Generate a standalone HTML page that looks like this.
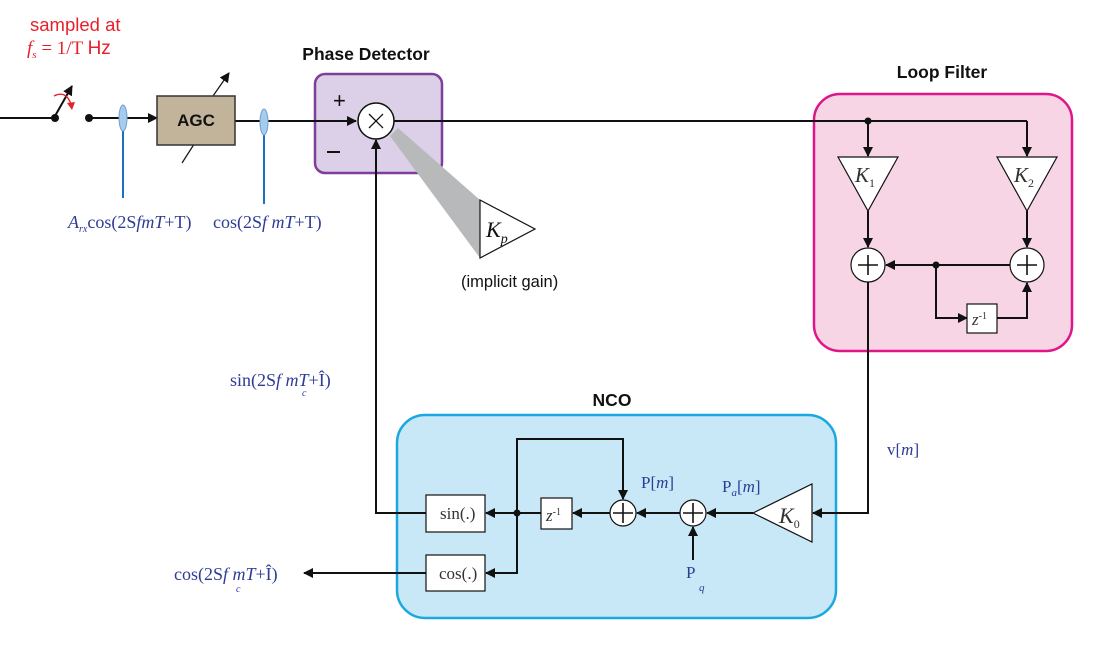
<!DOCTYPE html>
<html><head><meta charset="utf-8"><style>
body{margin:0;background:#fff}
svg{display:block}
.s{font-family:"Liberation Serif",serif;fill:#2e3c96}
.b{font-family:"Liberation Sans",sans-serif;font-weight:bold;fill:#111}
</style></head><body>
<svg width="1098" height="645" viewBox="0 0 1098 645" xmlns="http://www.w3.org/2000/svg">
<defs><marker id="a" markerWidth="10" markerHeight="10" refX="9" refY="5" orient="auto" markerUnits="userSpaceOnUse"><path d="M0,0 L10,5 L0,10z" fill="#111"/></marker></defs>
<rect x="814" y="94" width="258" height="257" rx="26" fill="#f8d5e5" stroke="#e0158a" stroke-width="2.5"/>
<rect x="397" y="415" width="439" height="203" rx="28" fill="#c8e8f7" stroke="#1aa8e0" stroke-width="2.5"/>
<rect x="315" y="74" width="127" height="99" rx="10" fill="#dccfe8" stroke="#7d3f98" stroke-width="2.5"/>
<text x="366" y="60" class="b" font-size="17.5" text-anchor="middle">Phase Detector</text>
<text x="942" y="78" class="b" font-size="17.5" text-anchor="middle">Loop Filter</text>
<text x="612" y="406" class="b" font-size="17.5" text-anchor="middle">NCO</text>
<text x="30" y="31" font-family="Liberation Sans" font-size="18.5" fill="#e8202a">sampled at</text>
<text x="27" y="54" font-family="Liberation Serif" font-size="19" fill="#e8202a"><tspan font-style="italic">f</tspan><tspan font-size="11" font-style="italic" dy="4">s</tspan><tspan dy="-4"> = 1/T </tspan><tspan font-family="Liberation Sans">Hz</tspan></text>
<g stroke="#111" stroke-width="2" fill="none">
<line x1="0" y1="118" x2="53" y2="118"/>
<line x1="55" y1="116" x2="72" y2="86" marker-end="url(#a)"/>
<line x1="87" y1="118" x2="157" y2="118" marker-end="url(#a)"/>
<line x1="235" y1="121" x2="356" y2="121" marker-end="url(#a)"/>
<line x1="394" y1="121" x2="1027" y2="121"/>
<line x1="868" y1="121" x2="868" y2="156" marker-end="url(#a)"/>
<line x1="1027" y1="121" x2="1027" y2="156" marker-end="url(#a)"/>
<line x1="868" y1="211" x2="868" y2="247" marker-end="url(#a)"/>
<line x1="1027" y1="211" x2="1027" y2="247" marker-end="url(#a)"/>
<line x1="1010" y1="265" x2="886" y2="265" marker-end="url(#a)"/>
<polyline points="936,265 936,318 967,318" marker-end="url(#a)"/>
<polyline points="996,318 1027,318 1027,283" marker-end="url(#a)"/>
<polyline points="868,282 868,513 813,513" marker-end="url(#a)"/>
<line x1="753" y1="513" x2="707" y2="513" marker-end="url(#a)"/>
<line x1="693" y1="560" x2="693" y2="527" marker-end="url(#a)"/>
<line x1="680" y1="513" x2="637" y2="513" marker-end="url(#a)"/>
<line x1="610" y1="513" x2="573" y2="513" marker-end="url(#a)"/>
<line x1="541" y1="513" x2="486" y2="513" marker-end="url(#a)"/>
<polyline points="517,513 517,439 623,439 623,499" marker-end="url(#a)"/>
<polyline points="517,513 517,573 486,573" marker-end="url(#a)"/>
<line x1="426" y1="573" x2="304" y2="573" marker-end="url(#a)"/>
<polyline points="426,513 376,513 376,140" marker-end="url(#a)"/>
<line x1="198" y1="138" x2="182" y2="163" stroke-width="1.2"/>
<line x1="213" y1="96" x2="229" y2="73" stroke-width="1.2" marker-end="url(#a)"/>
</g>
<path d="M54,96 Q66,90 71,104" stroke="#e8202a" stroke-width="1.3" fill="none"/>
<path d="M67,103 L72,110 L75,102z" fill="#e8202a"/>
<g fill="#111"><circle cx="55" cy="118" r="4"/><circle cx="89" cy="118" r="4"/><circle cx="868" cy="121" r="3.5"/><circle cx="936" cy="265" r="3.5"/><circle cx="517" cy="513" r="3.5"/></g>
<rect x="157" y="96" width="78" height="49" fill="#c2b49b" stroke="#333" stroke-width="1.5"/>
<text x="196" y="126" class="b" font-size="17" text-anchor="middle">AGC</text>
<g stroke="#1d6fc0" stroke-width="2"><line x1="123" y1="118" x2="123" y2="198"/><line x1="264" y1="121" x2="264" y2="204"/></g>
<ellipse cx="123" cy="118" rx="4" ry="13" fill="#a9cbea" stroke="#6fa0d8"/>
<ellipse cx="264" cy="122" rx="4" ry="13" fill="#a9cbea" stroke="#6fa0d8"/>
<text x="68" y="228" class="s" font-size="18"><tspan font-style="italic">A</tspan><tspan font-size="10" font-style="italic" dy="4">rx</tspan><tspan dy="-4">cos(2S</tspan><tspan font-style="italic">f</tspan><tspan font-style="italic">mT</tspan>+T)</text>
<text x="213" y="228" class="s" font-size="18">cos(2S<tspan font-style="italic">f</tspan> <tspan font-style="italic">mT</tspan>+T)</text>
<polygon points="390,136 398,128 480,200 480,258" fill="#b8b9bb"/>
<circle cx="376" cy="121" r="18" fill="#fff" stroke="#111" stroke-width="1.5"/>
<path d="M369,114 L383,128 M383,114 L369,128" stroke="#111" stroke-width="1.3"/>
<text x="333" y="108" font-family="Liberation Sans" font-size="22" fill="#111">+</text>
<line x1="327" y1="152" x2="340" y2="152" stroke="#111" stroke-width="2"/>
<polygon points="480,200 535,229 480,258" fill="#fff" stroke="#111" stroke-width="1.2"/>
<text x="486" y="237" font-family="Liberation Serif" font-size="22" font-style="italic" fill="#111">K<tspan font-size="14" dy="6">p</tspan></text>
<text x="461" y="287" font-family="Liberation Sans" font-size="16.5" fill="#111">(implicit gain)</text>
<g fill="#fff" stroke="#111" stroke-width="1.2">
<polygon points="838,157 898,157 868,211"/><polygon points="997,157 1057,157 1027,211"/>
<circle cx="868" cy="265" r="17"/><circle cx="1027" cy="265" r="17"/>
<rect x="967" y="304" width="30" height="29"/>
<polygon points="753,513 812,484 812,542"/>
<circle cx="693" cy="513" r="13"/><circle cx="623" cy="513" r="13"/>
<rect x="541" y="498" width="31" height="31"/>
<rect x="426" y="495" width="59" height="37"/><rect x="426" y="555" width="59" height="36"/>
</g>
<g stroke="#111" stroke-width="1.6">
<path d="M858,265 H878 M868,255 V275"/><path d="M1017,265 H1037 M1027,255 V275"/>
<path d="M683,513 H703 M693,503 V523"/><path d="M613,513 H633 M623,503 V523"/>
</g>
<g font-family="Liberation Serif" fill="#333">
<text x="855" y="182" font-size="21" font-style="italic">K<tspan font-size="12" font-style="normal" dy="5">1</tspan></text>
<text x="1014" y="182" font-size="21" font-style="italic">K<tspan font-size="12" font-style="normal" dy="5">2</tspan></text>
<text x="972" y="325" font-size="17" font-style="italic">z<tspan font-size="10" font-style="normal" dy="-6">-1</tspan></text>
<text x="546" y="521" font-size="17" font-style="italic">z<tspan font-size="10" font-style="normal" dy="-6">-1</tspan></text>
<text x="779" y="523" font-size="22" font-style="italic">K<tspan font-size="12" font-style="normal" dy="5">0</tspan></text>
<text x="440" y="519" font-size="17">sin(.)</text>
<text x="439" y="579" font-size="17">cos(.)</text>
</g>
<g class="s" font-size="17">
<text x="641" y="488">P[<tspan font-style="italic">m</tspan>]</text>
<text x="722" y="492">P<tspan font-size="11" font-style="italic" dy="4">a</tspan><tspan dy="-4">[</tspan><tspan font-style="italic">m</tspan>]</text>
<text x="686" y="578">P</text><text x="699" y="591" font-size="11" font-style="italic">q</text>
<text x="887" y="455">v[<tspan font-style="italic">m</tspan>]</text>
<text x="230" y="386" font-size="18">sin(2S<tspan font-style="italic">f</tspan> <tspan font-style="italic">mT</tspan>+Î)</text>
<text x="302" y="396" font-size="10" font-style="italic">c</text>
<text x="174" y="580" font-size="18">cos(2S<tspan font-style="italic">f</tspan> <tspan font-style="italic">mT</tspan>+Î)</text>
<text x="236" y="592" font-size="10" font-style="italic">c</text>
</g>
</svg>
</body></html>
